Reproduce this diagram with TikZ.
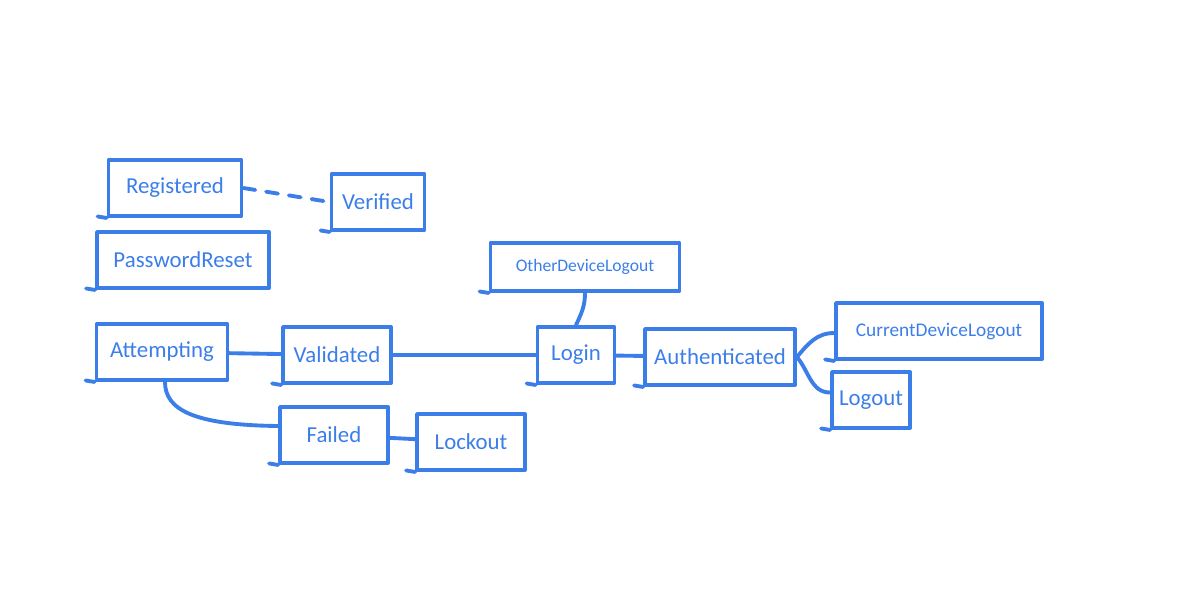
\documentclass[tikz,border=0pt]{standalone}
\usepackage{fontspec}
\setmainfont{Carlito}
\usetikzlibrary{positioning}
\definecolor{sketchblue}{RGB}{60,126,232}

\begin{document}
\begin{tikzpicture}[line width=2.2pt,line cap=round,line join=round]
\tikzstyle{box}=[draw=sketchblue,text=sketchblue,minimum height=1.12cm,inner sep=2pt,font=\fontsize{13}{15}\selectfont]
\tikzstyle{smallbox}=[box,font=\fontsize{11}{13}\selectfont]
\tikzstyle{link}=[draw=sketchblue]
\useasboundingbox (0,0) rectangle (24,-12.08);
% left group
\node[box,minimum width=2.66cm] (reg) at (3.50,-3.76) {Registered};
\node[box,minimum width=1.86cm] (ver) at (7.56,-4.04) {Verified};
\node[box,minimum width=3.44cm] (pwr) at (3.66,-5.20) {PasswordReset};
\node[box,minimum width=2.62cm] (att) at (3.24,-7.04) {Attempting};
\node[box,minimum width=2.16cm] (val) at (6.74,-7.10) {Validated};
\node[box,minimum width=2.16cm] (fai) at (6.68,-8.70) {Failed};
\node[box,minimum width=2.16cm] (loc) at (9.42,-8.84) {Lockout};
% right group
\node[smallbox,minimum width=3.78cm,minimum height=0.96cm,font=\fontsize{10}{12}\selectfont] (odl) at (11.70,-5.34) {OtherDeviceLogout};
\node[box,minimum width=1.54cm] (lgi) at (11.52,-7.10) {Login};
\node[box,minimum width=3.00cm] (aut) at (14.40,-7.14) {Authenticated};
\node[smallbox,minimum width=4.12cm] (cdl) at (18.78,-6.62) {CurrentDeviceLogout};
\node[box,minimum width=1.56cm] (lgo) at (17.42,-8.00) {Logout};
% sketchy corners
\foreach \n in {reg,ver,pwr,att,val,fai,loc,odl,lgi,aut,cdl,lgo}
  \draw[link] (\n.south west) -- ++(-0.18,0.03);
% links
\draw[link,dash pattern=on 0.24cm off 0.22cm] (reg.east) -- (ver.west);
\draw[link] (att) -- (val);
\draw[link] (val) -- (lgi);
\draw[link] ([xshift=0.06cm]att.south) .. controls +(0,-0.55) and +(-1.7,0.02) .. ([yshift=0.18cm]fai.west);
\draw[link] (fai) -- (loc);
\draw[link] (odl.south) to[out=-90,in=65] (lgi.north);
\draw[link] (lgi) -- (aut);
\draw[link] (aut.east) to[out=50,in=180] ([yshift=-0.04cm]cdl.west);
\draw[link] (aut.east) to[out=-50,in=180] ([yshift=0.15cm]lgo.west);
\end{tikzpicture}
\end{document}
